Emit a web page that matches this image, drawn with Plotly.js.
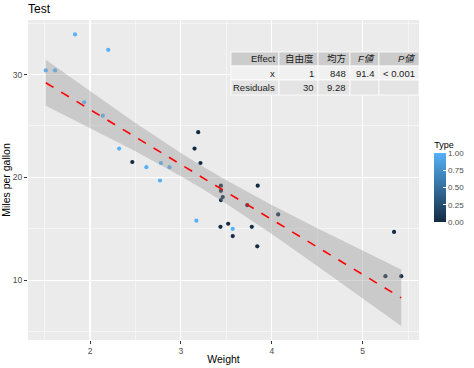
<!DOCTYPE html>
<html>
<head>
<meta charset="utf-8">
<script src="https://cdn.plot.ly/plotly-3.0.1.min.js"></script>
<style>html,body{margin:0;padding:0;background:#fff;}#chart{width:474px;height:368px;}</style>
</head>
<body>
<div id="chart"></div>
<script>
// mtcars: weight vs mpg, coloured by transmission type
var wt  = [2.620,2.875,2.320,3.215,3.440,3.460,3.570,3.190,3.150,3.440,3.440,4.070,3.730,3.780,5.250,5.424,5.345,2.200,1.615,1.835,2.465,3.520,3.435,3.840,3.845,1.935,2.140,1.513,3.170,2.770,3.570,2.780];
var mpg = [21.0,21.0,22.8,21.4,18.7,18.1,14.3,24.4,22.8,19.2,17.8,16.4,17.3,15.2,10.4,10.4,14.7,32.4,30.4,33.9,21.5,15.5,15.2,13.3,19.2,27.3,26.0,30.4,15.8,19.7,15.0,21.4];
var am  = [1,1,1,0,0,0,0,0,0,0,0,0,0,0,0,0,0,1,1,1,0,0,0,0,0,1,1,1,1,1,1,1];

// fitted line and confidence band
var fitX   = [1.513, 5.424];
var fitY   = [29.20, 8.30];
var bandX  = [1.513, 2.0, 2.5, 3.0, 3.217, 3.5, 4.0, 4.5, 5.0, 5.424];
var bandLo = [26.96, 24.82, 22.55, 20.12, 18.99, 17.43, 14.49, 11.40, 8.25, 5.55];
var bandHi = [31.43, 28.37, 25.30, 22.38, 21.19, 19.73, 17.32, 15.07, 12.88, 11.05];

// ANOVA table
var tableHeader = ['Effect', '自由度', '均方', '<i>F値</i>', '<i>P値</i>'];
var tableCols = [['x', 'Residuals'], ['1', '30'], ['848', '9.28'], ['91.4', ''], ['< 0.001', '']];

var xTicks = [2, 3, 4, 5];
var yTicks = [10, 20, 30];
var cbTicks = [0, 0.25, 0.5, 0.75, 1];

var FONT = 'Liberation Sans, Arial, Noto Sans CJK JP, sans-serif';
var XR = [1.3175, 5.6195], YR = [4.2, 35.3];

// pixel -> paper helpers for the table layout
var ML = 28, MT = 20, PW = 391, PH = 320;
function px(x) { return (x - ML) / PW; }
function py(y) { return 1 - (y - MT) / PH; }

var colEdges = [231, 279, 318, 350, 379, 419];
var rowEdges = [52, 66, 80, 95];
var rowFills = ['#cccccc', '#f1f1f1', '#e4e4e4'];

var shapes = [], annotations = [];
for (var r = 0; r < 3; r++) {
  for (var c = 0; c < 5; c++) {
    shapes.push({
      type: 'rect', xref: 'paper', yref: 'paper', layer: 'above',
      x0: px(colEdges[c]), x1: px(colEdges[c + 1]),
      y0: py(rowEdges[r + 1]), y1: py(rowEdges[r]),
      fillcolor: rowFills[r], line: {color: '#ffffff', width: 0.8}
    });
    var txt = r === 0 ? tableHeader[c] : tableCols[c][r - 1];
    if (txt !== '') {
      annotations.push({
        text: txt, xref: 'paper', yref: 'paper', showarrow: false,
        x: px(colEdges[c + 1] - 2), xanchor: 'right',
        y: py((rowEdges[r] + rowEdges[r + 1]) / 2), yanchor: 'middle',
        font: {family: FONT, size: 9.5, color: '#1a1a1a'}
      });
    }
  }
}

var traces = [
  {
    type: 'scatter', mode: 'markers', x: wt, y: mpg, xaxis: 'x', yaxis: 'y',
    marker: {
      size: 4.2, color: am, cmin: 0, cmax: 1,
      colorscale: [[0, '#132B43'], [1, '#56B1F7']],
      showscale: true,
      colorbar: {
        title: {text: 'Type', side: 'top', font: {family: FONT, size: 9, color: '#000'}},
        x: 1.039, xanchor: 'left', xref: 'paper',
        y: 0.50, yanchor: 'middle',
        lenmode: 'pixels', len: 84, thickness: 12,
        xpad: 0, ypad: 0, outlinewidth: 0,
        tickvals: cbTicks, tickformat: '.2f',
        ticks: 'inside', ticklen: 3, tickcolor: '#fff', tickwidth: 1,
        tickfont: {family: FONT, size: 8, color: '#4d4d4d'}
      }
    },
    hoverinfo: 'skip', showlegend: false
  },
  {
    type: 'scatter', mode: 'lines', x: bandX, y: bandLo, xaxis: 'x2', yaxis: 'y2',
    line: {width: 0, color: 'rgba(0,0,0,0)'}, hoverinfo: 'skip', showlegend: false
  },
  {
    type: 'scatter', mode: 'lines', x: bandX, y: bandHi, fill: 'tonexty', xaxis: 'x2', yaxis: 'y2',
    fillcolor: 'rgba(153,153,153,0.4)',
    line: {width: 0, color: 'rgba(0,0,0,0)'}, hoverinfo: 'skip', showlegend: false
  },
  {
    type: 'scatter', mode: 'lines', x: fitX, y: fitY, xaxis: 'x2', yaxis: 'y2',
    line: {color: '#FF0000', width: 1.6, dash: 'dash'}, hoverinfo: 'skip', showlegend: false
  }
];

var layout = {
  width: 474, height: 368,
  margin: {l: ML, r: 474 - ML - PW, t: MT, b: 368 - MT - PH, pad: 0, autoexpand: false},
  paper_bgcolor: '#ffffff', plot_bgcolor: '#EBEBEB',
  font: {family: FONT, color: '#000'},
  title: {text: 'Test', x: 0, xanchor: 'left', xref: 'paper', y: 1 - 9 / 368, yanchor: 'middle',
          font: {family: FONT, size: 12, color: '#000'}},
  xaxis: {
    range: XR, tickvals: xTicks, ticks: 'outside', ticklen: 3, tickcolor: '#333',
    tickfont: {family: FONT, size: 8.5, color: '#4d4d4d'},
    showgrid: true, gridcolor: '#ffffff', gridwidth: 1.1, zeroline: false, showline: false,
    minor: {tick0: 1.5, dtick: 1, showgrid: true, gridcolor: '#ffffff', gridwidth: 0.5, ticks: ''},
    title: {text: 'Weight', font: {family: FONT, size: 10.5, color: '#000'}, standoff: 0},
    automargin: false
  },
  yaxis: {
    range: YR, tickvals: yTicks, ticks: 'outside', ticklen: 3, tickcolor: '#333',
    tickfont: {family: FONT, size: 8.5, color: '#4d4d4d'},
    showgrid: true, gridcolor: '#ffffff', gridwidth: 1.1, zeroline: false, showline: false,
    minor: {tick0: 5, dtick: 10, showgrid: true, gridcolor: '#ffffff', gridwidth: 0.5, ticks: ''},
    title: {text: 'Miles per gallon', font: {family: FONT, size: 10.5, color: '#000'}, standoff: 1},
    automargin: false
  },
  xaxis2: {range: XR, overlaying: 'x', visible: false, showgrid: false, zeroline: false},
  yaxis2: {range: YR, overlaying: 'y', visible: false, showgrid: false, zeroline: false},
  shapes: shapes,
  annotations: annotations,
  showlegend: false
};

Plotly.newPlot('chart', traces, layout, {staticPlot: true, displayModeBar: false});
</script>
</body>
</html>
